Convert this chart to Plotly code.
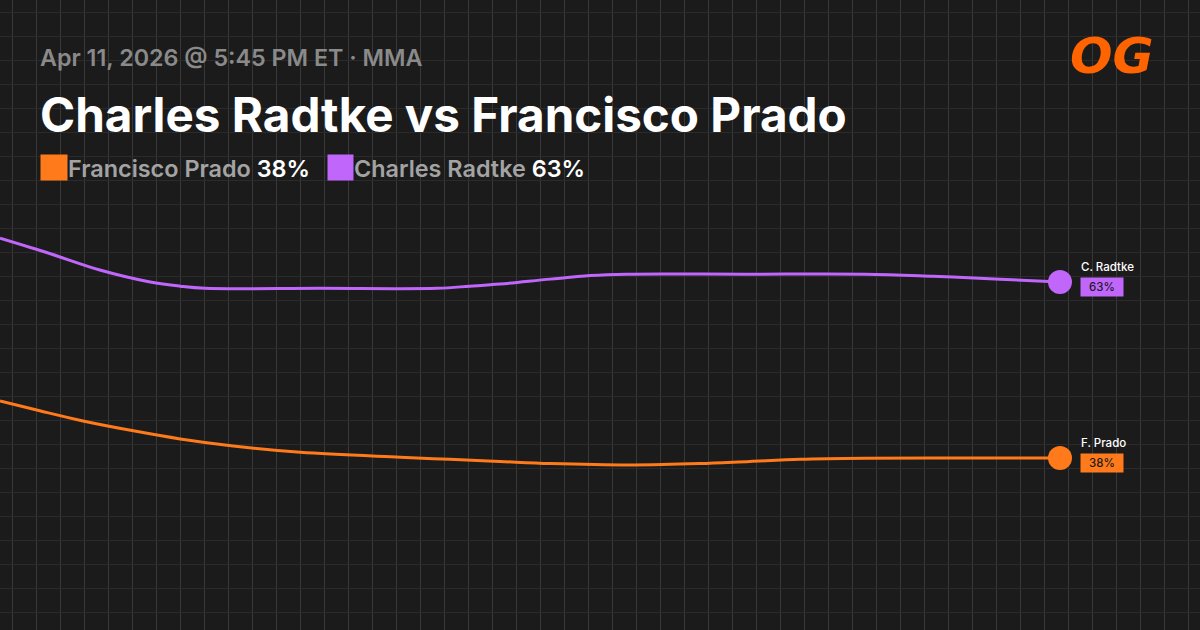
import plotly.graph_objects as go

# ---- data (hours since first snapshot, implied win probability %) ----
radtke_hours = [0, 5.7, 11.3, 17.0, 20.4, 23.2, 36.2, 49.5, 53.2, 56.6, 62.3, 66.8, 70.9, 84.3, 97.9, 105.6, 113.2, 120]
radtke_pct = [69.2, 67.0, 64.7, 63.0, 62.4, 62.1, 62.1, 62.1, 62.4, 62.7, 63.4, 63.9, 64.1, 64.1, 64.1, 63.8, 63.4, 63.0]
prado_hours = [0, 4.5, 9.4, 15.1, 20.4, 26.4, 34.0, 45.3, 50.9, 56.6, 62.3, 71.7, 79.2, 84.9, 90.6, 97.9, 108.7, 120]
prado_pct = [46.1, 44.7, 43.25, 41.85, 40.7, 39.7, 38.8, 38.1, 37.8, 37.5, 37.2, 37.0, 37.2, 37.5, 37.8, 37.95, 38.0, 38.0]
names = ["Francisco Prado", "Charles Radtke"]
short_names = ["F. Prado", "C. Radtke"]
final_pct = [38, 63]

BG = "#1b1b1b"
ORANGE = "#ff7a1a"
PURPLE = "#c066fb"
FONT = "Inter"

W, H = 1200, 630
X_RANGE = [0, 135.85]
Y_RANGE = [13.56, 103.05]
GRID_PX = 24
# grid spacing of 24px expressed in axis units
x_dtick = GRID_PX * (X_RANGE[1] - X_RANGE[0]) / W
y_dtick = GRID_PX * (Y_RANGE[1] - Y_RANGE[0]) / H

fig = go.Figure()

fig.add_trace(go.Scatter(x=prado_hours, y=prado_pct, mode="lines",
                         line=dict(color=ORANGE, width=3, shape="spline", smoothing=1),
                         hoverinfo="skip", showlegend=False))
fig.add_trace(go.Scatter(x=radtke_hours, y=radtke_pct, mode="lines",
                         line=dict(color=PURPLE, width=3, shape="spline", smoothing=1),
                         hoverinfo="skip", showlegend=False))
fig.add_trace(go.Scatter(x=[prado_hours[-1], radtke_hours[-1]], y=[prado_pct[-1], radtke_pct[-1]], mode="markers",
                         marker=dict(size=24, color=[ORANGE, PURPLE]),
                         hoverinfo="skip", showlegend=False))

ann = []
for nm, hx, val, pc, col in [(short_names[0], prado_hours[-1], prado_pct[-1], final_pct[0], ORANGE),
                             (short_names[1], radtke_hours[-1], radtke_pct[-1], final_pct[1], PURPLE)]:
    ann.append(dict(x=hx, y=val, xref="x", yref="y", text=nm, showarrow=False, xanchor="left", yanchor="middle",
                    xshift=19, yshift=15, font=dict(family=FONT, size=11.5, color="#ffffff", weight=500)))
    ann.append(dict(x=hx, y=val, xref="x", yref="y", text=f"{pc}%", showarrow=False, xanchor="left", yanchor="middle",
                    xshift=20, yshift=-5, bgcolor=col, borderpad=2, width=38,
                    font=dict(family=FONT, size=11.5, color="#1b1b1b", weight=500)))

# header
ann.append(dict(x=38/W, y=1-57/H, xref="paper", yref="paper", xanchor="left", yanchor="middle", showarrow=False,
                text="Apr 11, 2026 @ 5:45 PM ET · MMA", font=dict(family=FONT, size=23.3, color="#8a8a8a", weight=600)))
ann.append(dict(x=38/W, y=1-114/H, xref="paper", yref="paper", xanchor="left", yanchor="middle", showarrow=False,
                text="Charles Radtke vs Francisco Prado", font=dict(family=FONT, size=47.6, color="#ffffff", weight=700)))
# legend
ann.append(dict(x=40/W, y=1-168/H, xref="paper", yref="paper", xanchor="left", yanchor="middle", showarrow=False,
                text="", width=24, height=23, bgcolor=ORANGE))
ann.append(dict(x=66/W, y=1-169/H, xref="paper", yref="paper", xanchor="left", yanchor="middle", showarrow=False,
                text=f"<span style='color:#a3a3a3'>{names[0]}</span> {final_pct[0]}%",
                font=dict(family=FONT, size=23.4, color="#ffffff", weight=600)))
ann.append(dict(x=327/W, y=1-168/H, xref="paper", yref="paper", xanchor="left", yanchor="middle", showarrow=False,
                text="", width=23, height=23, bgcolor=PURPLE))
ann.append(dict(x=352/W, y=1-169/H, xref="paper", yref="paper", xanchor="left", yanchor="middle", showarrow=False,
                text=f"<span style='color:#a3a3a3'>{names[1]}</span> {final_pct[1]}%",
                font=dict(family=FONT, size=23.4, color="#ffffff", weight=600)))
# logo
ann.append(dict(x=1112/W, y=1-56/H, xref="paper", yref="paper", xanchor="center", yanchor="middle", showarrow=False,
                text="<b><i>OG</i></b>", font=dict(family="DejaVu Sans", size=50, color="#ff6400")))

fig.update_layout(
    width=W, height=H, margin=dict(l=0, r=0, t=0, b=0),
    paper_bgcolor=BG, plot_bgcolor=BG,
    xaxis=dict(range=X_RANGE, domain=[0, 1], tick0=X_RANGE[0] + x_dtick / 2, dtick=x_dtick,
               showgrid=True, gridcolor="#383838", gridwidth=1,
               showticklabels=False, zeroline=False, showline=False, ticks="", fixedrange=True),
    yaxis=dict(range=Y_RANGE, domain=[0, 1], tick0=Y_RANGE[1] - y_dtick / 2, dtick=y_dtick,
               showgrid=True, gridcolor="#2b2b2b", gridwidth=1,
               showticklabels=False, zeroline=False, showline=False, ticks="", fixedrange=True),
    annotations=ann,
    showlegend=False,
)

fig.write_html("out.html", config={"displayModeBar": False})
